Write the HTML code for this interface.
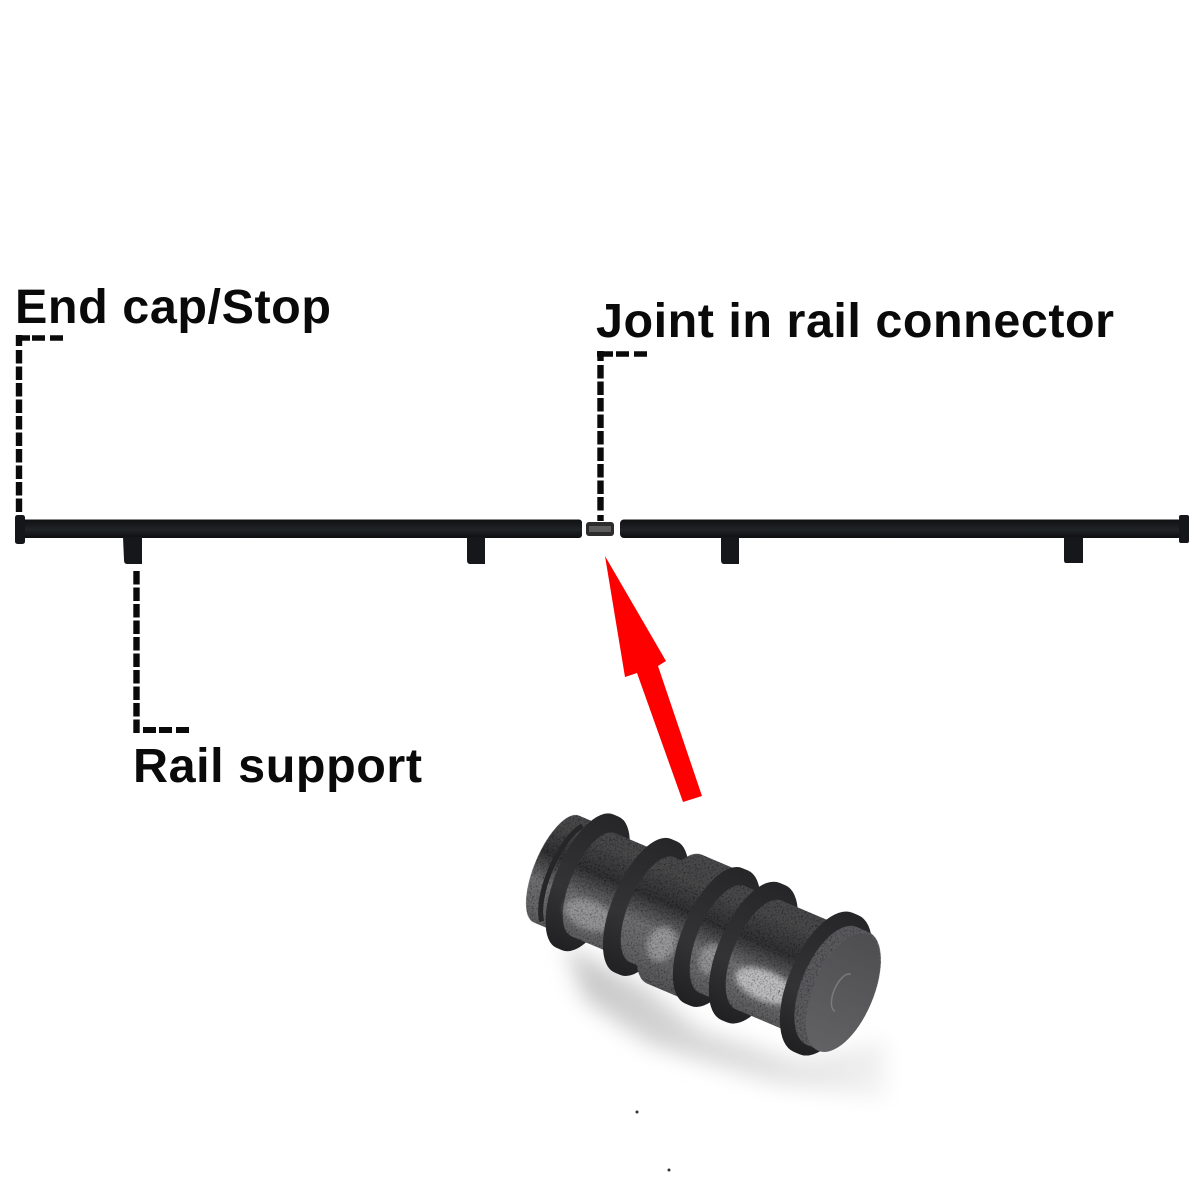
<!DOCTYPE html>
<html><head><meta charset="utf-8"><style>
html,body{margin:0;padding:0;background:#fff}
svg{display:block}
text{font-family:"Liberation Sans",sans-serif;font-weight:700;font-size:48.5px;fill:#0a0a0a}
</style></head><body>
<svg width="1200" height="1200" viewBox="0 0 1200 1200" xmlns="http://www.w3.org/2000/svg">
<defs>
<linearGradient id="rail" x1="0" y1="0" x2="0" y2="1"><stop offset="0" stop-color="#0f1012"/><stop offset=".55" stop-color="#202327"/><stop offset="1" stop-color="#0d0e10"/></linearGradient>
<linearGradient id="body" gradientUnits="userSpaceOnUse" x1="0" y1="-72" x2="0" y2="72"><stop offset="0" stop-color="#4c4c4e"/><stop offset=".22" stop-color="#48484a"/><stop offset=".42" stop-color="#323234"/><stop offset=".62" stop-color="#707072"/><stop offset=".8" stop-color="#666668"/><stop offset="1" stop-color="#525254"/></linearGradient>
<linearGradient id="ring" gradientUnits="userSpaceOnUse" x1="0" y1="-72" x2="0" y2="72"><stop offset="0" stop-color="#262628"/><stop offset=".6" stop-color="#333335"/><stop offset="1" stop-color="#212123"/></linearGradient>
<linearGradient id="face" x1="0" y1="0" x2="0" y2="1"><stop offset="0" stop-color="#4e4e50"/><stop offset="1" stop-color="#626264"/></linearGradient>
<linearGradient id="shad" gradientUnits="userSpaceOnUse" x1="570" y1="960" x2="880" y2="1090"><stop offset="0" stop-color="#c6c6c6"/><stop offset=".6" stop-color="#dcdcdc"/><stop offset="1" stop-color="#f2f2f2"/></linearGradient>
<filter id="blur" x="-30%" y="-30%" width="160%" height="160%"><feGaussianBlur stdDeviation="11"/></filter>
<filter id="soft" x="-30%" y="-30%" width="160%" height="160%"><feGaussianBlur stdDeviation="3"/></filter>
<filter id="tex" x="0" y="0" width="100%" height="100%">
  <feTurbulence type="fractalNoise" baseFrequency="0.6" numOctaves="2" seed="4" result="n"/>
  <feColorMatrix in="n" values="0 0 0 0 0  0 0 0 0 0  0 0 0 0 0  1.4 1.4 0 0 -1.3" result="d"/>
  <feComposite in="d" in2="SourceAlpha" operator="in" result="dc"/>
  <feMerge><feMergeNode in="SourceGraphic"/><feMergeNode in="dc"/></feMerge>
</filter>
</defs>

<!-- shadow -->
<path d="M565 945 L650 990 L700 1030 L800 1060 L885 1040 L885 1098 L780 1085 L650 1045 L585 1000 Z" fill="url(#shad)" filter="url(#blur)"/>

<!-- rails -->
<rect x="20" y="519.5" width="562" height="18.5" rx="3" fill="url(#rail)"/>
<rect x="15" y="515" width="10" height="29" rx="2.5" fill="#14161a"/>
<rect x="620" y="519.5" width="562" height="18.5" rx="4" fill="url(#rail)"/>
<rect x="1179" y="515" width="10" height="28" rx="2" fill="#14161a"/>
<path d="M123 537 H142 V564 H127 Q124 564 124 560 Z" fill="#15171a"/>
<path d="M467 537 H485 V564 H470 Q467 564 467 560 Z" fill="#15171a"/>
<path d="M721 537 H739 V564 H724 Q721 564 721 560 Z" fill="#15171a"/>
<path d="M1064 537 H1083 V563 H1066 Q1064 563 1064 560 Z" fill="#15171a"/>
<rect x="586" y="522" width="28" height="14" rx="3" fill="#2c2c2c"/>
<rect x="589" y="526" width="22" height="6" fill="#5c5c5c"/>

<!-- dashed leaders -->
<g fill="none" stroke="#0a0a0a" stroke-width="6.4">
<path d="M19 350 V513" stroke-dasharray="13.5 3"/>
<path d="M19 335 V346"/>
<path d="M16 338 H30 M32 338 H45 M50 338 H63" stroke-width="5.5"/>
<path d="M600.5 365 V512" stroke-dasharray="13.5 3"/>
<path d="M600.5 515 V521"/>
<path d="M600.5 351 V361"/>
<path d="M597 354 H613 M616 354 H629 M634 354 H647" stroke-width="5.5"/>
<path d="M136.5 571 V733" stroke-dasharray="13.5 3"/>
<path d="M143 730 H156 M159 730 H172 M176 730 H189" stroke-width="6"/>
</g>

<!-- labels -->
<text x="15" y="323" textLength="316" lengthAdjust="spacing">End cap/Stop</text>
<text x="596" y="337" textLength="518" lengthAdjust="spacing">Joint in rail connector</text>
<text x="133" y="782" textLength="289" lengthAdjust="spacing">Rail support</text>

<!-- red arrow -->
<polygon points="605,556 666,661 658,666 702,796 683,802 637,673 625,677" fill="#fe0000"/>

<!-- connector -->
<g transform="translate(700 930) rotate(23)">
  <!-- left cap disc -->
  <path filter="url(#tex)" d="M-156 -58 A22 58 0 0 0 -156 58 H-120 A22 58 0 0 0 -120 -58 Z" fill="url(#body)"/>
  <path d="M-149 -50 A22 58 0 0 0 -149 54" fill="none" stroke="#262628" stroke-width="5"/>
  <!-- ring 1 -->
  <path d="M-125 -71 A28 71 0 0 0 -125 71 H-119 A28 71 0 0 0 -119 -71 Z" fill="url(#ring)" stroke="url(#ring)" stroke-width="3" stroke-linejoin="round"/>
  <!-- body 1 -->
  <g filter="url(#tex)">
    <path d="M-116 -56 A23 56 0 0 0 -116 56 H-58 A23 56 0 0 0 -58 -56 Z" fill="url(#body)"/>
    <ellipse cx="-108" cy="30" rx="26" ry="14" fill="#a8a8aa" filter="url(#soft)" opacity=".7"/>
  </g>
  <!-- ring 2 -->
  <path d="M-62 -71 A29 71 0 0 0 -62 71 H-56 A29 71 0 0 0 -56 -71 Z" fill="url(#ring)" stroke="url(#ring)" stroke-width="3" stroke-linejoin="round"/>
  <!-- short body -->
  <path filter="url(#tex)" d="M-52 -57 A24 57 0 0 0 -52 57 H-20 A24 57 0 0 0 -20 -57 Z" fill="url(#body)"/>
  <!-- collar -->
  <g filter="url(#tex)">
    <path d="M-28 -70 A28 70 0 0 0 -28 70 H16 A28 70 0 0 0 16 -70 Z" fill="url(#body)"/>
    <ellipse cx="-30" cy="28" rx="14" ry="18" fill="#b0b0b2" filter="url(#soft)" opacity=".65"/>
  </g>
  <!-- collar groove -->
  <path d="M15 -72 A30 72 0 0 0 15 72 H21 A30 72 0 0 0 21 -72 Z" fill="url(#ring)" stroke="url(#ring)" stroke-width="3" stroke-linejoin="round"/>
  <!-- body 2 short -->
  <g filter="url(#tex)">
    <path d="M24 -58 A25 58 0 0 0 24 58 H58 A25 58 0 0 0 58 -58 Z" fill="url(#body)"/>
    <ellipse cx="22" cy="22" rx="12" ry="16" fill="#b0b0b2" filter="url(#soft)" opacity=".6"/>
  </g>
  <!-- ring 3 -->
  <path d="M55 -73 A31 73 0 0 0 55 73 H61 A31 73 0 0 0 61 -73 Z" fill="url(#ring)" stroke="url(#ring)" stroke-width="3" stroke-linejoin="round"/>
  <!-- body 3 -->
  <g filter="url(#tex)">
    <path d="M64 -59 A26 59 0 0 0 64 59 H137 A26 59 0 0 0 137 -59 Z" fill="url(#body)"/>
    <ellipse cx="82" cy="26" rx="32" ry="15" fill="#cdcdcf" filter="url(#soft)" opacity=".85"/>
  </g>
  <!-- ring 4 -->
  <path d="M134 -74 A33 74 0 0 0 134 74 H140 A33 74 0 0 0 140 -74 Z" fill="url(#ring)" stroke="url(#ring)" stroke-width="3" stroke-linejoin="round"/>
  <!-- end disc -->
  <g filter="url(#tex)">
    <path d="M143 -64 A30 64 0 0 0 143 64 H156 A30 64 0 0 0 156 -64 Z" fill="#5c5c5f"/>
  </g>
  <ellipse cx="156" cy="2" rx="30" ry="63" fill="url(#face)"/>
  <path d="M156 -18 A9 20 0 0 0 156 22" fill="none" stroke="#7a7a7c" stroke-width="1.5"/>
</g>
<circle cx="637" cy="1112" r="1.5" fill="#333"/>
<circle cx="669" cy="1170" r="1.5" fill="#333"/>
</svg>
</body></html>
